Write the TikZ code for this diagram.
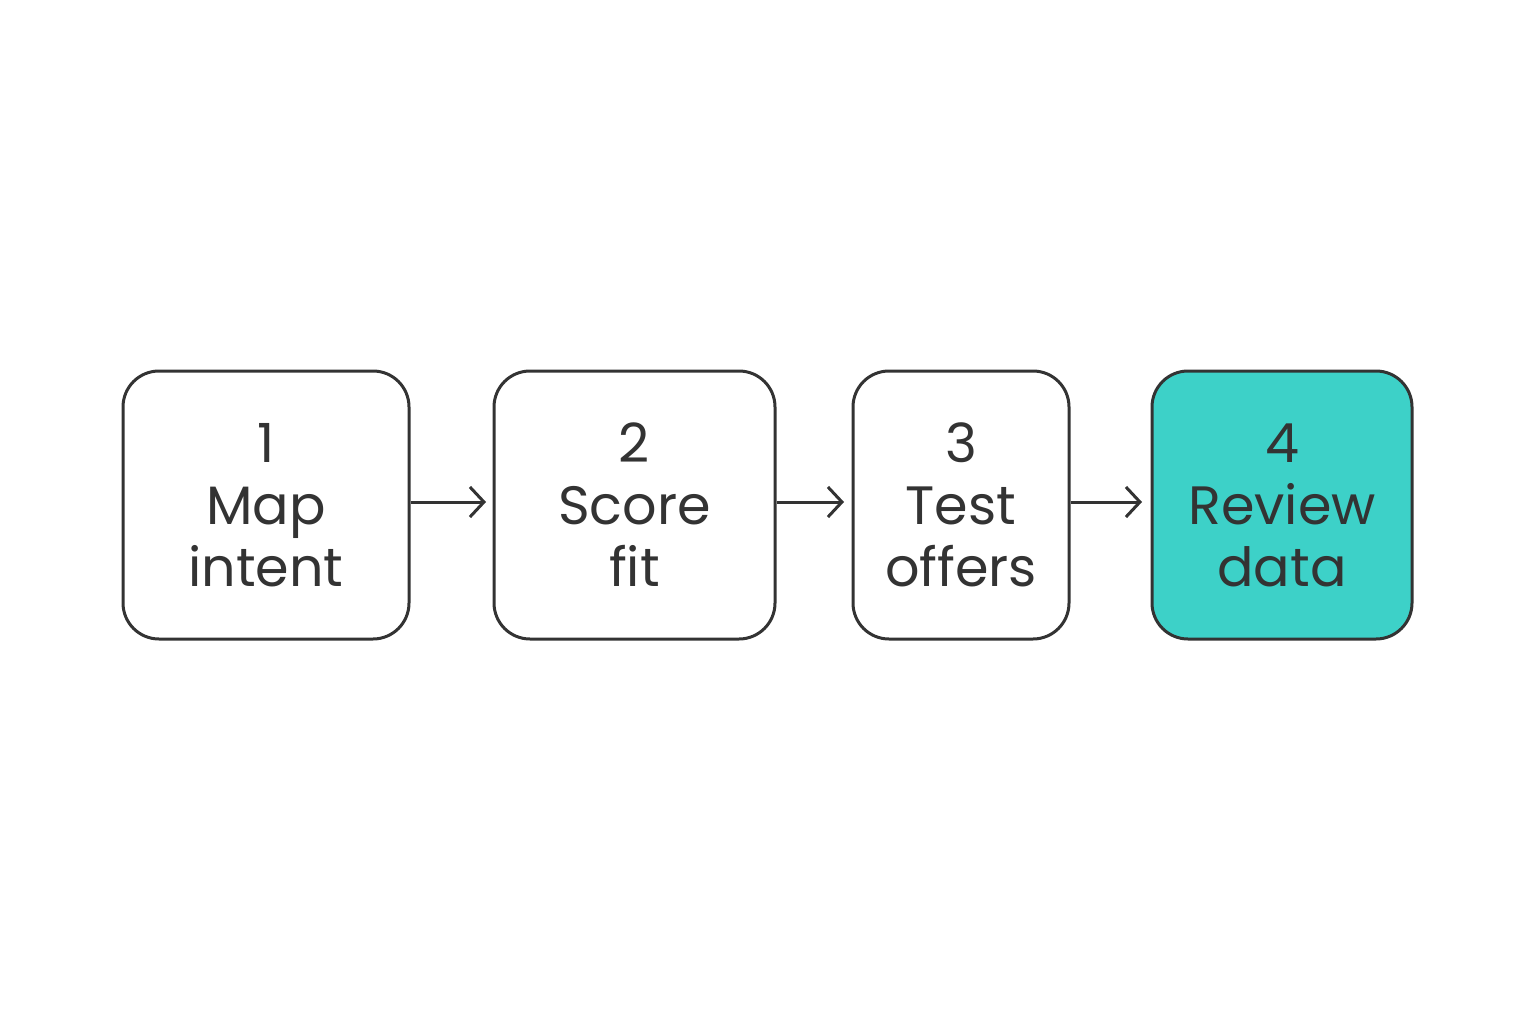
\documentclass[tikz,border=0pt]{standalone}
\usepackage{fontspec}
\setmainfont{Poppins}
\usetikzlibrary{arrows.meta}
\definecolor{ink}{HTML}{333333}
\definecolor{teal}{HTML}{3DD1C8}
\tikzset{
  stepbox/.style={draw=ink, line width=3pt, rounded corners=36pt, align=center, text=ink,
    font=\fontsize{54}{62}\selectfont, inner sep=0pt},
  conn/.style={draw=ink, line width=3pt, -{Straight Barb[length=14pt,width=30pt,line width=3pt]}}
}
\begin{document}
\begin{tikzpicture}[x=1pt,y=-1pt]
\useasboundingbox (0,0) rectangle (1536,1024);
\node[stepbox, minimum width=286pt, minimum height=268pt] (a) at (266,505) {1\\Map\\intent};
\node[stepbox, minimum width=281pt, minimum height=268pt] (b) at (634.5,505) {2\\Score\\fit};
\node[stepbox, minimum width=216pt, minimum height=268pt] (c) at (961,505) {3\\Test\\offers};
\node[stepbox, fill=teal, minimum width=260pt, minimum height=268pt] (d) at (1282,505) {4\\Review\\data};
\coordinate (ae) at (486,502);
\coordinate (be) at (844,502);
\coordinate (ce) at (1142,502);
\draw[conn] (a.east |- ae) -- (ae);
\draw[conn] (b.east |- be) -- (be);
\draw[conn] (c.east |- ce) -- (ce);
\end{tikzpicture}
\end{document}
